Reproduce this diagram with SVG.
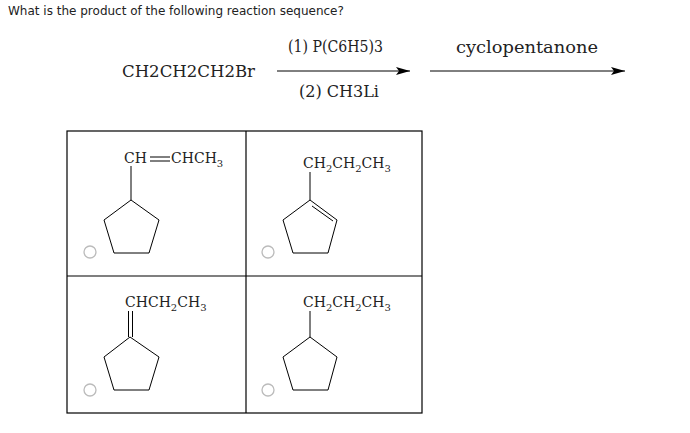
<svg xmlns="http://www.w3.org/2000/svg" width="690" height="433" viewBox="0 0 690 433">
<style>
.s{font-family:"DejaVu Serif",serif;fill:#222}
.q{font-family:"DejaVu Sans",sans-serif;font-size:12px;fill:#222}
.b{stroke:#000;stroke-width:1.2;fill:none}
.g{stroke:#000;stroke-width:1;fill:none}
.r{fill:#fff;stroke:#bbb;stroke-width:1.3}
</style>
<defs><marker id="ah" markerWidth="14" markerHeight="8" refX="14" refY="4" orient="auto" markerUnits="userSpaceOnUse"><path d="M0,0 L14,4 L0,8 L3,4 Z" fill="#000"/></marker></defs>
<rect width="690" height="433" fill="#fff"/>
<text class="q" x="8" y="15">What is the product of the following reaction sequence?</text>
<text class="s" x="122" y="77" font-size="16" textLength="133" lengthAdjust="spacingAndGlyphs">CH2CH2CH2Br</text>
<text class="s" x="288" y="52" font-size="16" textLength="95" lengthAdjust="spacingAndGlyphs">(1) P(C6H5)3</text>
<text class="s" x="299" y="97" font-size="16" textLength="80" lengthAdjust="spacingAndGlyphs">(2) CH3Li</text>
<text class="s" x="456" y="53" font-size="16" textLength="142" lengthAdjust="spacingAndGlyphs">cyclopentanone</text>
<g id="connectors">
<line class="g" x1="277" y1="71" x2="410" y2="71" marker-end="url(#ah)"/>
<line class="g" x1="430" y1="71" x2="625" y2="71" marker-end="url(#ah)"/>
</g>
<g id="grid" class="b"><rect x="67" y="131" width="355" height="282"/><line x1="246" y1="131" x2="246" y2="413"/><line x1="67" y1="276" x2="422" y2="276"/></g>
<g id="optA">
<text class="s" x="124" y="163" font-size="14">CH</text>
<line class="g" x1="150" y1="157" x2="170" y2="157"/>
<line class="g" x1="150" y1="161" x2="170" y2="161"/>
<text class="s" x="171" y="163" font-size="14">CHCH<tspan font-size="10" dy="4">3</tspan></text>
<line class="g" x1="131" y1="166" x2="131" y2="200"/>
<path class="g" d="M131,200 L159,220 L149,253 L114,253 L104,220 Z"/>
<circle class="r" cx="90" cy="252" r="6"/>
</g>
<g id="optB">
<text class="s" x="303" y="168" font-size="14">CH<tspan font-size="10" dy="4">2</tspan><tspan dy="-4">CH</tspan><tspan font-size="10" dy="4">2</tspan><tspan dy="-4">CH</tspan><tspan font-size="10" dy="4">3</tspan></text>
<line class="g" x1="310" y1="172" x2="310" y2="200"/>
<path class="g" d="M310,200 L337,220 L328,253 L293,253 L283,220 Z"/>
<line class="g" x1="312" y1="206" x2="333" y2="221"/>
<circle class="r" cx="268" cy="252" r="6"/>
</g>
<g id="optC">
<text class="s" x="125" y="307" font-size="14">CHCH<tspan font-size="10" dy="4">2</tspan><tspan dy="-4">CH</tspan><tspan font-size="10" dy="4">3</tspan></text>
<line class="g" x1="128.5" y1="311" x2="128.5" y2="337"/>
<line class="g" x1="132.5" y1="311" x2="132.5" y2="337"/>
<path class="g" d="M130,337 L159,357 L149,390 L114,390 L104,357 Z"/>
<circle class="r" cx="90" cy="390" r="6"/>
</g>
<g id="optD">
<text class="s" x="303" y="307" font-size="14">CH<tspan font-size="10" dy="4">2</tspan><tspan dy="-4">CH</tspan><tspan font-size="10" dy="4">2</tspan><tspan dy="-4">CH</tspan><tspan font-size="10" dy="4">3</tspan></text>
<line class="g" x1="310" y1="311" x2="310" y2="337"/>
<path class="g" d="M310,337 L337,357 L328,390 L293,390 L283,357 Z"/>
<circle class="r" cx="268" cy="390" r="6"/>
</g>
</svg>
